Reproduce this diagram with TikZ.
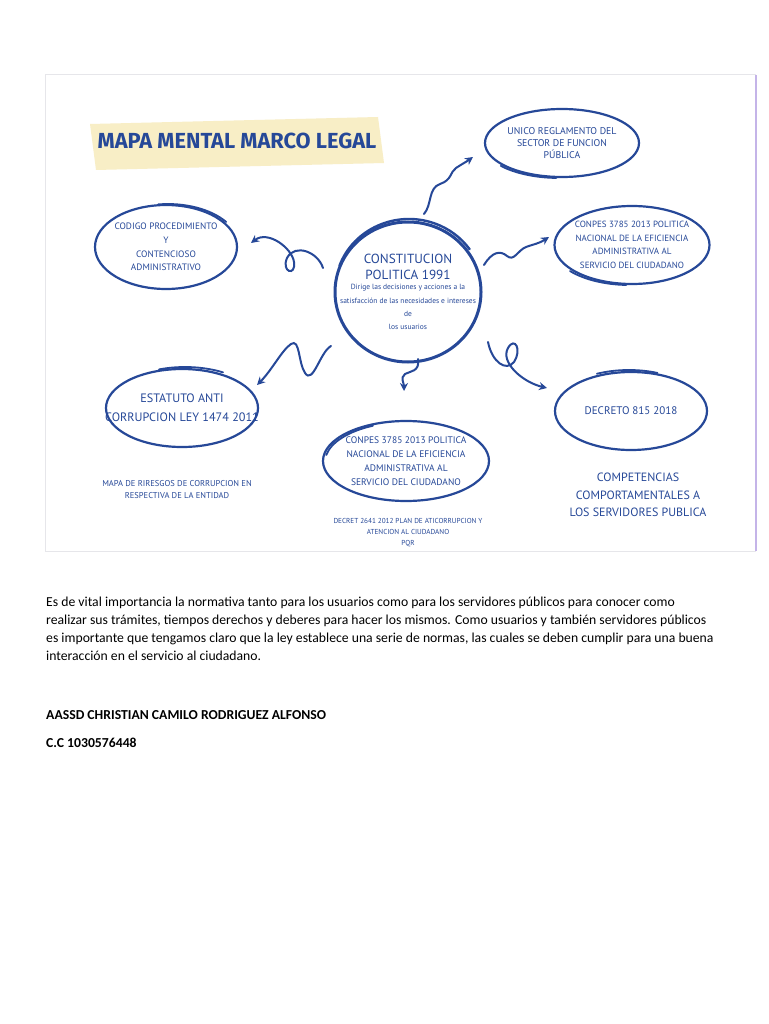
\documentclass[tikz,border=0pt]{standalone}
\usepackage{fontspec}
\setmainfont{Carlito}
\newfontfamily\hand{PT Sans}
\newfontfamily\titlef{Fira Sans}
\usetikzlibrary{shapes.geometric,arrows.meta}
\definecolor{mblue}{RGB}{38,72,152}
\definecolor{hl}{RGB}{248,238,198}
\definecolor{frameg}{RGB}{230,230,234}
\definecolor{framep}{RGB}{196,180,232}
\begin{document}
\begin{tikzpicture}[x=1pt,y=-1pt,
  ell/.style={ellipse, draw=mblue, line width=2.2pt, inner sep=0pt},
  sk/.style={draw=mblue, line width=1.8pt, line cap=round},
  arr/.style={draw=mblue, line width=2pt, line cap=round, -{Stealth[length=8pt,width=8pt]}},
  lab/.style={text=mblue, align=center, inner sep=0pt},
  body/.style={anchor=base west, inner sep=0pt, font=\fontsize{13.7}{18}\selectfont}]
\useasboundingbox (0,0) rectangle (768,1024);
\fill[white] (0,0) rectangle (768,1024);
% frame
\draw[frameg, line width=1pt] (756,551) -- (45,551) -- (45,75) -- (756,75);
\draw[framep, line width=1.5pt] (756,75) -- (756,551);
% title
\fill[hl] (90,124) -- (378,117) -- (384,163) -- (96,170) -- cycle;
\node[lab, font=\titlef\bfseries\fontsize{21.8}{24}\selectfont] (title) at (237,141) {MAPA MENTAL MARCO LEGAL};
% central circle
\node[ellipse, draw=mblue, line width=3pt, minimum width=146pt, minimum height=140pt, inner sep=0pt] (cpol) at (408,292) {};
\draw[sk, line width=2.4pt] ([shift={(1,-2)}]cpol.center) ++(200:74 and 71) arc[start angle=200, end angle=325, x radius=74, y radius=71];
\node[lab, font=\hand\fontsize{13.2}{16.5}\selectfont] (ctitle) at (408,267) {CONSTITUCION\\POLITICA 1991};
\node[lab, font=\hand\fontsize{7.5}{13.2}\selectfont] (csub) at (408,307) {Dirige las decisiones y acciones a la\\satisfacción de las necesidades e intereses\\de\\los usuarios};
% ellipses
\node[ell, minimum width=154pt, minimum height=68pt] (unico) at (562,143) {};
\node[lab, font=\hand\fontsize{9.8}{12}\selectfont] (unicot) at (unico.center) {UNICO REGLAMENTO DEL\\SECTOR DE FUNCION\\PÚBLICA};
\draw[sk] ([shift={(-3,1)}]unico.center) ++(92:76 and 34) arc[start angle=92, end angle=140, x radius=76, y radius=34];
\node[ell, minimum width=155pt, minimum height=78pt] (conpesa) at (632,245) {};
\node[lab, font=\hand\fontsize{9}{13.5}\selectfont] (conpesat) at (conpesa.center) {CONPES 3785 2013 POLITICA\\NACIONAL DE LA EFICIENCIA\\ADMINISTRATIVA AL\\SERVICIO DEL CIUDADANO};
\draw[sk] ([shift={(-3,1)}]conpesa.center) ++(92:77 and 39) arc[start angle=92, end angle=140, x radius=77, y radius=39];
\node[ell, minimum width=142pt, minimum height=84pt] (codigo) at (166,247) {};
\node[lab, font=\hand\fontsize{9.3}{13.7}\selectfont] (codigot) at (codigo.center) {CODIGO PROCEDIMIENTO\\Y\\CONTENCIOSO\\ADMINISTRATIVO};
\draw[sk] ([shift={(2,-1)}]codigo.center) ++(262:71 and 42) arc[start angle=262, end angle=325, x radius=71, y radius=42];
\node[ell, minimum width=152pt, minimum height=78pt] (estatuto) at (182,408) {};
\node[lab, font=\hand\fontsize{12.2}{19}\selectfont] (estatutot) at (estatuto.center) {ESTATUTO ANTI\\CORRUPCION LEY 1474 2011};
\draw[sk] ([shift={(3,-1)}]estatuto.center) ++(250:76 and 40) arc[start angle=250, end angle=300, x radius=76, y radius=40];
\node[ell, minimum width=166pt, minimum height=80pt] (conpesb) at (406,461) {};
\node[lab, font=\hand\fontsize{9.5}{14}\selectfont] (conpesbt) at (conpesb.center) {CONPES 3785 2013 POLITICA\\NACIONAL DE LA EFICIENCIA\\ADMINISTRATIVA AL\\SERVICIO DEL CIUDADANO};
\draw[sk] ([shift={(2,1)}]conpesb.center) ++(190:83 and 40) arc[start angle=190, end angle=245, x radius=83, y radius=40];
\node[ell, minimum width=152pt, minimum height=78pt] (decreto) at (631,411) {};
\node[lab, font=\hand\fontsize{11}{14}\selectfont] (decretot) at (decreto.center) {DECRETO 815 2018};
\draw[sk] ([shift={(-2,-1)}]decreto.center) ++(245:76 and 40) arc[start angle=245, end angle=292, x radius=76, y radius=40];
% free labels
\node[lab, font=\hand\fontsize{12}{17.5}\selectfont] (comp) at (638,495) {COMPETENCIAS\\COMPORTAMENTALES A\\LOS SERVIDORES PUBLICA};
\node[lab, font=\hand\fontsize{8.5}{12}\selectfont] (riesgos) at (177,490) {MAPA DE RIRESGOS DE CORRUPCION EN\\RESPECTIVA DE LA ENTIDAD};
\node[lab, font=\hand\fontsize{7.2}{11}\selectfont] (decret) at (408,533) {DECRET 2641 2012 PLAN DE ATICORRUPCION Y\\ATENCION AL CIUDADANO\\PQR};
% connectors
\coordinate (a1s) at (424,214); \coordinate (a1e) at (473,157);
\draw[arr] (a1s) .. controls (432,205) and (428,188) .. (440,184) .. controls (452,180) and (450,172) .. (456,168) .. controls (462,164) and (466,162) .. (a1e);
\coordinate (a2s) at (484,265); \coordinate (a2e) at (549,237);
\draw[arr] (a2s) .. controls (492,252) and (500,250) .. (507,256) .. controls (514,262) and (518,250) .. (526,247) .. controls (534,244) and (538,244) .. (a2e);
\coordinate (a3s) at (323,268); \coordinate (a3e) at (251,243);
\draw[arr] (a3s) .. controls (318,252) and (295,243) .. (287,258) .. controls (281,272) and (296,277) .. (294,262) .. controls (292,248) and (268,230) .. (a3e);
\coordinate (a4s) at (331,346); \coordinate (a4e) at (257,385);
\draw[arr] (a4s) .. controls (320,352) and (313,385) .. (305,373) .. controls (298,362) and (300,338) .. (291,344) .. controls (282,350) and (272,370) .. (a4e);
\coordinate (a5s) at (418,359); \coordinate (a5e) at (404,391);
\draw[arr] (a5s) .. controls (420,372) and (410,371) .. (405,374) .. controls (400,378) and (404,383) .. (a5e);
\coordinate (a6s) at (488,342); \coordinate (a6e) at (547,388);
\draw[arr] (a6s) .. controls (492,362) and (506,372) .. (514,362) .. controls (522,350) and (515,336) .. (508,348) .. controls (500,362) and (522,382) .. (a6e);
% body text
\node[body] (p1) at (46,606) {Es de vital importancia la normativa tanto para los usuarios como para los servidores públicos para conocer como};
\node[body] (p2) at (46,624) {realizar sus trámites, tiempos derechos y deberes para hacer los mismos. Como usuarios y también servidores públicos};
\node[body] (p3) at (46,642) {es importante que tengamos claro que la ley establece una serie de normas, las cuales se deben cumplir para una buena};
\node[body] (p4) at (46,660) {interacción en el servicio al ciudadano.};
\node[body, font=\bfseries\fontsize{13.7}{18}\selectfont] (name) at (46,719) {AASSD CHRISTIAN CAMILO RODRIGUEZ ALFONSO};
\node[body, font=\bfseries\fontsize{13.7}{18}\selectfont] (cc) at (46,747) {C.C 1030576448};
\end{tikzpicture}
\end{document}
